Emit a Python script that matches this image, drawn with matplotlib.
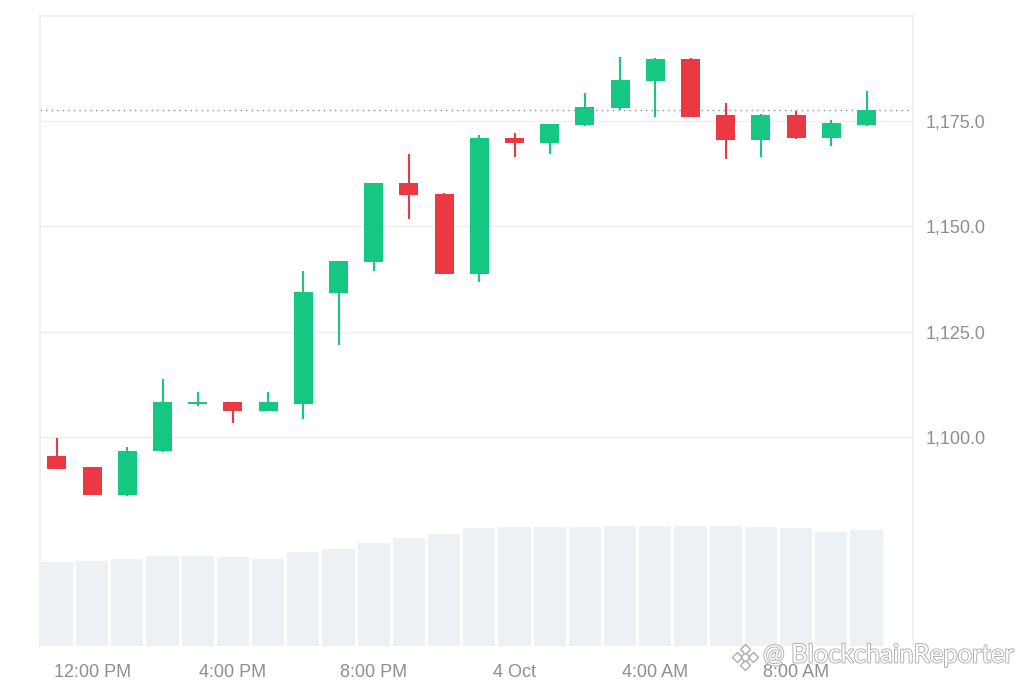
import numpy as np
import matplotlib
matplotlib.use("Agg")
import matplotlib.pyplot as plt
import matplotlib.patheffects as pe

# hourly candles, 11:00 AM (3 Oct) to 10:00 AM (4 Oct)
opens = [1095.5, 1092.7, 1086.2, 1096.5, 1107.8, 1108.2, 1106.2, 1107.8,
         1134.2, 1141.5, 1160.2, 1157.8, 1138.7, 1171.1, 1169.9, 1174.0,
         1178.1, 1184.6, 1189.8, 1176.4, 1170.5, 1176.4, 1171.1, 1174.0]
highs = [1099.7, 1092.8, 1097.6, 1113.6, 1110.6, 1108.3, 1110.6, 1139.4,
         1141.8, 1160.3, 1167.1, 1157.9, 1171.6, 1172.3, 1174.4, 1181.7,
         1190.3, 1189.9, 1189.9, 1179.3, 1176.6, 1177.4, 1175.2, 1182.1]
lows = [1092.3, 1086.2, 1085.8, 1096.4, 1107.2, 1103.3, 1106.1, 1104.2,
        1121.7, 1139.5, 1151.7, 1138.7, 1136.7, 1166.4, 1167.1, 1173.9,
        1177.6, 1176.0, 1176.1, 1166.0, 1166.6, 1170.7, 1169.1, 1173.9]
closes = [1092.3, 1086.2, 1096.7, 1108.2, 1108.0, 1106.2, 1108.2, 1134.5,
          1141.7, 1160.2, 1157.5, 1138.7, 1171.1, 1169.9, 1174.3, 1178.4,
          1184.8, 1189.8, 1176.1, 1170.5, 1176.4, 1171.1, 1174.5, 1177.6]
volumes = [83.0, 84.3, 86.0, 89.3, 89.3, 87.7, 86.0, 92.7, 96.0, 101.7,
           106.7, 111.0, 116.7, 117.7, 117.7, 118.3, 118.7, 118.7, 118.7,
           118.7, 118.3, 116.7, 113.3, 115.0]

tick_idx = [1, 5, 9, 13, 17, 21]
tick_labels = ["12:00 PM", "4:00 PM", "8:00 PM", "4 Oct", "4:00 AM", "8:00 AM"]
price_ticks = [1100.0, 1125.0, 1150.0, 1175.0]

GREEN = "#16c784"
RED = "#ea3943"
GRID = "#eceef1"
TEXT = "#8a8f97"

plt.rcParams['font.family'] = ['Liberation Sans', 'DejaVu Sans']

fig = plt.figure(figsize=(10.24, 6.83), dpi=100)
pos = [40 / 1024, 1 - 646 / 683, 873 / 1024, 630 / 683]

# volume axis underneath
axv = fig.add_axes(pos)
x = np.arange(len(opens))
axv.bar(x, volumes, width=0.86, color="#eef1f4", edgecolor="#eef1f4",
        linewidth=1.5, joinstyle="round", zorder=1)
axv.set_ylim(0, 630)
axv.set_xlim(-0.48, 24.32)
axv.axis("off")

# price axis on top
ax = fig.add_axes(pos)
ax.patch.set_alpha(0)
o = np.array(opens)
c = np.array(closes)
colors = [GREEN if cc >= oo else RED for oo, cc in zip(o, c)]
ax.vlines(x, lows, highs, colors=colors, linewidth=1.5, zorder=3)
heights = np.maximum(np.abs(c - o), 0.45)
ax.bar(x, heights, bottom=np.minimum(o, c), width=0.54, color=colors, zorder=4)

ax.axhline(closes[-1], color="#8a8f98", linestyle=(0, (1, 3)), linewidth=1.0, zorder=2)

ax.set_xlim(-0.48, 24.32)
ax.set_ylim(1050.24, 1200)
ax.set_yticks(price_ticks)
ax.set_yticklabels([f"{v:,.1f}" for v in price_ticks])
ax.yaxis.tick_right()
ax.set_xticks(tick_idx)
ax.set_xticklabels(tick_labels)
ax.tick_params(axis="both", length=0, labelsize=13, colors=TEXT)
ax.tick_params(axis="x", pad=13)
ax.tick_params(axis="y", pad=9)
ax.grid(axis="y", color=GRID, linewidth=1.0, zorder=0)
for side in ["top", "left", "right"]:
    ax.spines[side].set_color(GRID)
    ax.spines[side].set_linewidth(1.2)
ax.spines["bottom"].set_visible(False)

# watermark
outline = [pe.Stroke(linewidth=1.3, foreground="#a9adb3"), pe.Normal()]
fig.text(763 / 1024, 1 - 655 / 683, "@ BlockchainReporter", color="white",
         fontsize=18.5, family=["Lato", "DejaVu Sans"], ha="left", va="center",
         path_effects=outline, zorder=10)
lx, ly = 745 / 1024, 1 - 657 / 683
dx, dy = 8 / 1024, 8 / 683
fig.lines.append(plt.Line2D([lx, lx - dx, lx + dx, lx, lx],
                            [ly, ly, ly, ly + dy, ly - dy],
                            transform=fig.transFigure, linestyle="none",
                            marker="D", markersize=5, markerfacecolor="white",
                            markeredgecolor="#a9adb3", markeredgewidth=1.0))

fig.savefig("out.png", dpi=100)
